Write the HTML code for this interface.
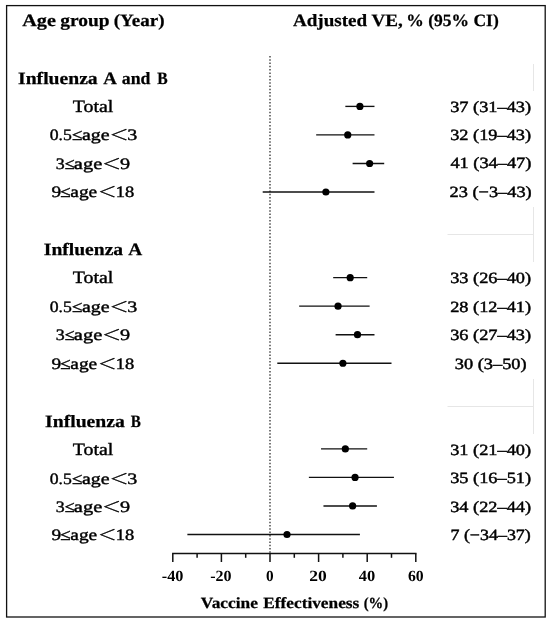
<!DOCTYPE html>
<html><head><meta charset="utf-8"><title>Forest plot of adjusted vaccine effectiveness</title>
<style>
html,body{margin:0;padding:0;background:#fff;}
svg{display:block;}
text{font-family:'Liberation Serif', 'Noto Serif CJK SC', serif;fill:#000;text-rendering:geometricPrecision;}
.b{font-weight:700;stroke:#000;stroke-width:0.25px;}
.t{font-weight:700;}
.r{font-weight:400;stroke:#000;stroke-width:0.4px;}
.v{font-weight:400;stroke:#000;stroke-width:0.45px;}
</style></head><body>
<svg width="550" height="625" viewBox="0 0 550 625">
<rect width="550" height="625" fill="#fff"/>
<rect x="6.6" y="5.6" width="538.6" height="611.4" fill="none" stroke="#111" stroke-width="1.3"/>
<path d="M533.5 64V91M533.5 207V262M447.5 234.5H533M533.5 379V434M447.5 406.5H533" stroke="#e6e6e6" stroke-width="1" fill="none"/>
<line x1="270" y1="56" x2="270" y2="553" stroke="#555" stroke-width="1.6" stroke-dasharray="1.5 1.78"/>
<line x1="345.33" y1="106.40" x2="374.49" y2="106.40" stroke="#111" stroke-width="1.35"/>
<circle cx="359.91" cy="106.40" r="3.6" fill="#000"/>
<line x1="316.17" y1="134.94" x2="374.49" y2="134.94" stroke="#111" stroke-width="1.35"/>
<circle cx="347.76" cy="134.94" r="3.6" fill="#000"/>
<line x1="352.62" y1="163.48" x2="384.21" y2="163.48" stroke="#111" stroke-width="1.35"/>
<circle cx="369.63" cy="163.48" r="3.6" fill="#000"/>
<line x1="262.71" y1="192.02" x2="374.49" y2="192.02" stroke="#111" stroke-width="1.35"/>
<circle cx="325.89" cy="192.02" r="3.6" fill="#000"/>
<line x1="333.18" y1="277.64" x2="367.20" y2="277.64" stroke="#111" stroke-width="1.35"/>
<circle cx="350.19" cy="277.64" r="3.6" fill="#000"/>
<line x1="299.16" y1="306.18" x2="369.63" y2="306.18" stroke="#111" stroke-width="1.35"/>
<circle cx="338.04" cy="306.18" r="3.6" fill="#000"/>
<line x1="335.61" y1="334.72" x2="374.49" y2="334.72" stroke="#111" stroke-width="1.35"/>
<circle cx="357.48" cy="334.72" r="3.6" fill="#000"/>
<line x1="277.29" y1="363.26" x2="391.50" y2="363.26" stroke="#111" stroke-width="1.35"/>
<circle cx="342.90" cy="363.26" r="3.6" fill="#000"/>
<line x1="321.03" y1="448.88" x2="367.20" y2="448.88" stroke="#111" stroke-width="1.35"/>
<circle cx="345.33" cy="448.88" r="3.6" fill="#000"/>
<line x1="308.88" y1="477.42" x2="393.93" y2="477.42" stroke="#111" stroke-width="1.35"/>
<circle cx="355.05" cy="477.42" r="3.6" fill="#000"/>
<line x1="323.46" y1="505.96" x2="376.92" y2="505.96" stroke="#111" stroke-width="1.35"/>
<circle cx="352.62" cy="505.96" r="3.6" fill="#000"/>
<line x1="187.38" y1="534.50" x2="359.91" y2="534.50" stroke="#111" stroke-width="1.35"/>
<circle cx="287.01" cy="534.50" r="3.6" fill="#000"/>
<line x1="172.10" y1="553.5" x2="416.50" y2="553.5" stroke="#111" stroke-width="1.3"/>
<line x1="172.80" y1="553.5" x2="172.80" y2="562.00" stroke="#111" stroke-width="1.5"/>
<line x1="197.10" y1="553.5" x2="197.10" y2="557.80" stroke="#111" stroke-width="1.5"/>
<line x1="221.40" y1="553.5" x2="221.40" y2="562.00" stroke="#111" stroke-width="1.5"/>
<line x1="245.70" y1="553.5" x2="245.70" y2="557.80" stroke="#111" stroke-width="1.5"/>
<line x1="270.00" y1="553.5" x2="270.00" y2="562.00" stroke="#111" stroke-width="1.5"/>
<line x1="294.30" y1="553.5" x2="294.30" y2="557.80" stroke="#111" stroke-width="1.5"/>
<line x1="318.60" y1="553.5" x2="318.60" y2="562.00" stroke="#111" stroke-width="1.5"/>
<line x1="342.90" y1="553.5" x2="342.90" y2="557.80" stroke="#111" stroke-width="1.5"/>
<line x1="367.20" y1="553.5" x2="367.20" y2="562.00" stroke="#111" stroke-width="1.5"/>
<line x1="391.50" y1="553.5" x2="391.50" y2="557.80" stroke="#111" stroke-width="1.5"/>
<line x1="415.80" y1="553.5" x2="415.80" y2="562.00" stroke="#111" stroke-width="1.5"/>
<text class="b" font-size="17.3" transform="translate(22.21 25.80) scale(1.1714 1)">Age</text>
<text class="b" font-size="17.3" transform="translate(60.34 25.80) scale(1.1228 1)">group</text>
<text class="b" font-size="17.3" transform="translate(113.77 25.80) scale(1.1011 1)">(Year)</text>
<text class="b" font-size="17.3" transform="translate(292.92 26.10) scale(1.1038 1)">Adjusted VE,</text>
<text class="b" font-size="17.3" transform="translate(406.23 26.10) scale(1.0141 1)">% (95% CI)</text>
<text class="b" font-size="17.3" transform="translate(18.03 83.70) scale(1.1365 1)">Influenza</text>
<text class="b" font-size="17.3" transform="translate(103.13 83.70) scale(1.0917 1)">A</text>
<text class="b" font-size="17.3" transform="translate(121.79 83.70) scale(1.0275 1)">and</text>
<text class="b" font-size="17.3" transform="translate(157.27 83.70) scale(0.9023 1)">B</text>
<text class="b" font-size="17.3" transform="translate(43.83 255.00) scale(1.1307 1)">Influenza</text>
<text class="b" font-size="17.3" transform="translate(128.32 255.00) scale(1.1167 1)">A</text>
<text class="b" font-size="17.3" transform="translate(45.03 426.80) scale(1.1394 1)">Influenza</text>
<text class="b" font-size="17.3" transform="translate(130.68 426.80) scale(0.8744 1)">B</text>
<text class="r" font-size="17.3" transform="translate(72.71 111.90) scale(1.1511 1)">Total</text>
<text class="v" font-size="15.6" transform="translate(450.17 111.65) scale(1.1748 1)">37 (31–43)</text>
<text class="r" font-size="15.9" transform="translate(49.74 140.20) scale(1.1147 1)">0.5</text>
<text class="r" font-size="15.9" transform="translate(71.91 140.20) scale(1.1862 1)">≤</text>
<text class="r" font-size="15.9" transform="translate(81.97 140.20) scale(1.2524 1)">age</text>
<text class="r" font-size="15.9" transform="translate(109.35 140.17) scale(1.2250 0.9167)">＜</text>
<text class="r" font-size="15.9" transform="translate(127.15 140.20) scale(1.2615 1)">3</text>
<text class="v" font-size="15.6" transform="translate(450.17 139.95) scale(1.1748 1)">32 (19–43)</text>
<text class="r" font-size="15.9" transform="translate(55.66 168.70) scale(1.1231 1)">3</text>
<text class="r" font-size="15.9" transform="translate(64.65 168.70) scale(1.1310 1)">≤</text>
<text class="r" font-size="15.9" transform="translate(73.86 168.70) scale(1.2857 1)">age</text>
<text class="r" font-size="15.9" transform="translate(101.85 168.67) scale(1.2250 0.9167)">＜</text>
<text class="r" font-size="15.9" transform="translate(120.06 168.70) scale(1.2741 1)">9</text>
<text class="v" font-size="15.6" transform="translate(450.46 168.45) scale(1.1748 1)">41 (34–47)</text>
<text class="r" font-size="15.9" transform="translate(51.49 197.40) scale(1.2148 1)">9</text>
<text class="r" font-size="15.9" transform="translate(60.21 197.40) scale(1.1862 1)">≤</text>
<text class="r" font-size="15.9" transform="translate(70.29 197.40) scale(1.2190 1)">age</text>
<text class="r" font-size="15.9" transform="translate(97.82 197.37) scale(1.1917 0.9167)">＜</text>
<text class="r" font-size="15.9" transform="translate(115.65 197.40) scale(1.1636 1)">18</text>
<text class="v" font-size="15.6" transform="translate(449.58 197.15) scale(1.1748 1)">23 (−3–43)</text>
<text class="r" font-size="17.3" transform="translate(72.71 283.20) scale(1.1511 1)">Total</text>
<text class="v" font-size="15.6" transform="translate(450.17 282.95) scale(1.1748 1)">33 (26–40)</text>
<text class="r" font-size="15.9" transform="translate(49.74 311.90) scale(1.1147 1)">0.5</text>
<text class="r" font-size="15.9" transform="translate(71.91 311.90) scale(1.1862 1)">≤</text>
<text class="r" font-size="15.9" transform="translate(81.97 311.90) scale(1.2524 1)">age</text>
<text class="r" font-size="15.9" transform="translate(109.35 311.87) scale(1.2250 0.9167)">＜</text>
<text class="r" font-size="15.9" transform="translate(127.15 311.90) scale(1.2615 1)">3</text>
<text class="v" font-size="15.6" transform="translate(450.17 311.65) scale(1.1748 1)">28 (12–41)</text>
<text class="r" font-size="15.9" transform="translate(55.66 339.90) scale(1.1231 1)">3</text>
<text class="r" font-size="15.9" transform="translate(64.65 339.90) scale(1.1310 1)">≤</text>
<text class="r" font-size="15.9" transform="translate(73.86 339.90) scale(1.2857 1)">age</text>
<text class="r" font-size="15.9" transform="translate(101.85 339.87) scale(1.2250 0.9167)">＜</text>
<text class="r" font-size="15.9" transform="translate(120.06 339.90) scale(1.2741 1)">9</text>
<text class="v" font-size="15.6" transform="translate(450.17 339.65) scale(1.1748 1)">36 (27–43)</text>
<text class="r" font-size="15.9" transform="translate(51.49 369.00) scale(1.2148 1)">9</text>
<text class="r" font-size="15.9" transform="translate(60.21 369.00) scale(1.1862 1)">≤</text>
<text class="r" font-size="15.9" transform="translate(70.29 369.00) scale(1.2190 1)">age</text>
<text class="r" font-size="15.9" transform="translate(97.82 368.97) scale(1.1917 0.9167)">＜</text>
<text class="r" font-size="15.9" transform="translate(115.65 369.00) scale(1.1636 1)">18</text>
<text class="v" font-size="15.6" transform="translate(454.87 368.75) scale(1.1748 1)">30 (3–50)</text>
<text class="r" font-size="17.3" transform="translate(72.71 455.10) scale(1.1511 1)">Total</text>
<text class="v" font-size="15.6" transform="translate(450.17 454.85) scale(1.1748 1)">31 (21–40)</text>
<text class="r" font-size="15.9" transform="translate(49.74 483.60) scale(1.1147 1)">0.5</text>
<text class="r" font-size="15.9" transform="translate(71.91 483.60) scale(1.1862 1)">≤</text>
<text class="r" font-size="15.9" transform="translate(81.97 483.60) scale(1.2524 1)">age</text>
<text class="r" font-size="15.9" transform="translate(109.35 483.57) scale(1.2250 0.9167)">＜</text>
<text class="r" font-size="15.9" transform="translate(127.15 483.60) scale(1.2615 1)">3</text>
<text class="v" font-size="15.6" transform="translate(450.17 483.35) scale(1.1748 1)">35 (16–51)</text>
<text class="r" font-size="15.9" transform="translate(55.66 511.80) scale(1.1231 1)">3</text>
<text class="r" font-size="15.9" transform="translate(64.65 511.80) scale(1.1310 1)">≤</text>
<text class="r" font-size="15.9" transform="translate(73.86 511.80) scale(1.2857 1)">age</text>
<text class="r" font-size="15.9" transform="translate(101.85 511.77) scale(1.2250 0.9167)">＜</text>
<text class="r" font-size="15.9" transform="translate(120.06 511.80) scale(1.2741 1)">9</text>
<text class="v" font-size="15.6" transform="translate(450.17 511.55) scale(1.1748 1)">34 (22–44)</text>
<text class="r" font-size="15.9" transform="translate(51.49 540.00) scale(1.2148 1)">9</text>
<text class="r" font-size="15.9" transform="translate(60.21 540.00) scale(1.1862 1)">≤</text>
<text class="r" font-size="15.9" transform="translate(70.29 540.00) scale(1.2190 1)">age</text>
<text class="r" font-size="15.9" transform="translate(97.82 539.97) scale(1.1917 0.9167)">＜</text>
<text class="r" font-size="15.9" transform="translate(115.65 540.00) scale(1.1636 1)">18</text>
<text class="v" font-size="15.6" transform="translate(450.45 539.75) scale(1.1502 1)">7 (−34–37)</text>
<text class="t" font-size="15.6" transform="translate(161.78 581.00) scale(1.0430 1)">-40</text>
<text class="t" font-size="15.6" transform="translate(210.19 581.00) scale(1.0278 1)">-20</text>
<text class="t" font-size="15.6" transform="translate(265.91 581.00) scale(0.9778 1)">0</text>
<text class="t" font-size="15.6" transform="translate(309.36 581.00) scale(1.1228 1)">20</text>
<text class="t" font-size="15.6" transform="translate(358.64 581.00) scale(1.0576 1)">40</text>
<text class="t" font-size="15.6" transform="translate(408.00 581.00) scale(1.0069 1)">60</text>
<text class="b" font-size="15.5" transform="translate(200.72 607.80) scale(1.1188 1)">Vaccine</text>
<text class="b" font-size="15.5" transform="translate(263.22 607.80) scale(1.1158 1)">Effectiveness</text>
<text class="b" font-size="15.5" transform="translate(363.69 607.80) scale(0.9429 1)">(%)</text>
</svg>
</body></html>
